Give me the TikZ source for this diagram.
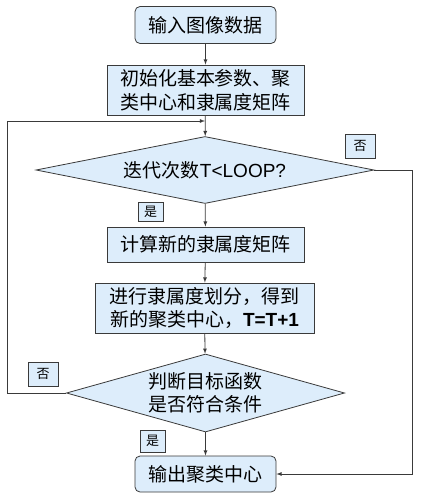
\documentclass[tikz,border=0pt]{standalone}
\usepackage{fontspec}
\setmainfont{Liberation Sans}
\newfontfamily\cjk{Noto Sans CJK SC}
\usepackage{xcolor}
\usetikzlibrary{shapes,arrows,positioning,fit}

\definecolor{boxblue}{HTML}{DDEDFB}
\definecolor{edgegray}{HTML}{3A3A3A}

\begin{document}
\begin{tikzpicture}[
    x=1pt, y=-1pt,
    box/.style={rectangle, draw=edgegray, fill=boxblue, line width=0.8pt, inner sep=0pt, align=center, font=\cjk\fontsize{19}{23.5}\selectfont},
    endbox/.style={box, rounded corners=5pt},
    decision/.style={diamond, draw=edgegray, fill=boxblue, line width=0.8pt, inner sep=0pt, aspect=4, align=center, font=\fontsize{19}{23.5}\selectfont},
    tag/.style={rectangle, draw=edgegray, fill=boxblue, line width=0.6pt, inner sep=0pt, font=\cjk\fontsize{13}{15}\selectfont},
    arrow/.style={-latex, line width=0.8pt, draw=edgegray}
]
    \useasboundingbox (0,0) rectangle (421,504);

    % Input
    \node[endbox, minimum width=141pt, minimum height=37pt] (input) at (205.5,25) {输入图像数据};

    % Initialisation
    \node[box, minimum width=197pt, minimum height=50pt] (init) at (205.5,90) {初始化基本参数、聚\\类中心和隶属度矩阵};

    % Iteration test
    \node[decision, minimum width=338pt, minimum height=67pt] (loop) at (205,170) {{\cjk 迭代次数}T<LOOP?};

    % Membership matrix
    \node[box, minimum width=197pt, minimum height=35pt] (calc) at (205.5,244.5) {计算新的隶属度矩阵};

    % New centres
    \node[box, minimum width=219pt, minimum height=50pt] (update) at (204.5,308) {进行隶属度划分，得到\\新的聚类中心，\textbf{\rmfamily T=T+1}};

    % Objective test
    \node[decision, minimum width=277pt, minimum height=78pt, font=\cjk\fontsize{19}{23.5}\selectfont] (goal) at (205.5,393) {判断目标函数\\是否符合条件};

    % Output
    \node[endbox, minimum width=141pt, minimum height=36pt] (output) at (205.5,474) {输出聚类中心};

    % Branch tags
    \node[tag, minimum width=30pt, minimum height=24pt] (noA) at (360,146) {否};
    \node[tag, minimum width=25pt, minimum height=19pt] (yesA) at (150.5,211.5) {是};
    \node[tag, minimum width=30pt, minimum height=24pt] (noB) at (43,374) {否};
    \node[tag, minimum width=25pt, minimum height=22pt] (yesB) at (152.5,441) {是};

    % Loop points
    \coordinate (join) at (205,121);
    \coordinate (left) at (7,393);
    \coordinate (right) at (412,170);

    % Arrows
    \draw[arrow] (input) -- (init);
    \draw[arrow] (init) -- (loop);
    \draw[arrow] (loop) -- (calc);
    \draw[arrow] (calc) -- (update);
    \draw[arrow] (update) -- (goal);
    \draw[arrow] (goal) -- (output);
    \draw[arrow] (goal.west) -- (left) |- (join);
    \draw[arrow] (loop.east) -- (right) |- (output.east);

\end{tikzpicture}
\end{document}
